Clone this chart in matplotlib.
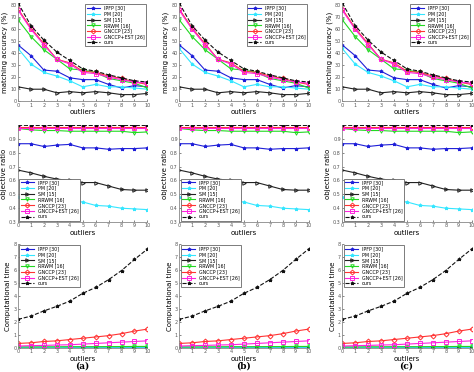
import numpy as np
import matplotlib
matplotlib.use("Agg")
import matplotlib.pyplot as plt

outliers = list(range(11))
methods = ["IPFP [30]", "PM [20]", "SM [15]", "RRWM [16]", "GNCCP [23]", "GNCCP+EST [26]", "ours"]

acc = {
    "IPFP [30]": [47, 38, 26, 25, 19.5, 18, 18, 14, 11, 13, 12],
    "PM [20]": [44, 31, 24, 21, 17, 12, 14, 12, 12, 11, 10],
    "SM [15]": [12, 10, 10, 7, 8, 7, 8, 7, 5.5, 5.5, 6.5],
    "RRWM [16]": [68, 54, 43, 35, 27, 26, 24, 19, 17, 15, 11],
    "GNCCP [23]": [77, 61, 48, 35, 32, 25, 24, 21, 19, 16, 14],
    "GNCCP+EST [26]": [76, 60, 47, 35, 31, 24, 23, 20, 18, 16, 15],
    "ours": [82, 63, 51, 41, 34, 27, 25, 22, 19.5, 17, 16],
}
ratio = {
    "IPFP [30]": [0.865, 0.865, 0.845, 0.855, 0.86, 0.835, 0.835, 0.825, 0.83, 0.83, 0.835],
    "PM [20]": [0.48, 0.47, 0.46, 0.455, 0.45, 0.445, 0.42, 0.415, 0.40, 0.395, 0.39],
    "SM [15]": [0.675, 0.655, 0.63, 0.61, 0.60, 0.585, 0.585, 0.56, 0.535, 0.53, 0.53],
    "RRWM [16]": [0.975, 0.965, 0.96, 0.96, 0.955, 0.955, 0.955, 0.955, 0.955, 0.945, 0.95],
    "GNCCP [23]": [0.985, 0.985, 0.985, 0.985, 0.985, 0.985, 0.985, 0.985, 0.985, 0.985, 0.985],
    "GNCCP+EST [26]": [0.98, 0.98, 0.98, 0.98, 0.98, 0.98, 0.98, 0.98, 0.98, 0.98, 0.98],
    "ours": [0.998, 0.997, 0.997, 0.997, 0.997, 0.997, 0.997, 0.997, 0.997, 0.997, 0.997],
}
ctime = {
    "IPFP [30]": [0.05, 0.05, 0.05, 0.05, 0.06, 0.06, 0.06, 0.06, 0.07, 0.07, 0.07],
    "PM [20]": [0.04, 0.04, 0.04, 0.04, 0.05, 0.05, 0.05, 0.05, 0.05, 0.05, 0.05],
    "SM [15]": [0.02, 0.02, 0.02, 0.02, 0.02, 0.02, 0.02, 0.02, 0.02, 0.02, 0.02],
    "RRWM [16]": [0.08, 0.08, 0.09, 0.09, 0.1, 0.1, 0.1, 0.11, 0.11, 0.12, 0.12],
    "GNCCP [23]": [0.35, 0.4, 0.5, 0.55, 0.65, 0.75, 0.85, 0.95, 1.1, 1.3, 1.45],
    "GNCCP+EST [26]": [0.15, 0.18, 0.2, 0.23, 0.25, 0.3, 0.35, 0.4, 0.45, 0.5, 0.55],
    "ours": [2.2, 2.45, 2.85, 3.2, 3.6, 4.2, 4.65, 5.25, 5.95, 6.8, 7.6],
}

styles = {
    "IPFP [30]": dict(color="#1f1fd8", marker="*", ls="-", mfc="#1f1fd8"),
    "PM [20]": dict(color="#33e6ff", marker="*", ls="-", mfc="none"),
    "SM [15]": dict(color="#222222", marker=">", ls="-", mfc="none"),
    "RRWM [16]": dict(color="#22d822", marker="v", ls="-", mfc="none"),
    "GNCCP [23]": dict(color="#ff3333", marker="D", ls="-", mfc="none"),
    "GNCCP+EST [26]": dict(color="#ff22dd", marker="s", ls="-", mfc="none"),
    "ours": dict(color="#111111", marker="*", ls="--", mfc="#111111"),
}

rows = [
    (acc, "matching accuracy (%)", (0, 82), list(range(0, 81, 10)), "upper right", 0.728, 0.264),
    (ratio, "objective ratio", (0.3, 1.0), [0.3, 0.4, 0.5, 0.6, 0.7, 0.8, 0.9], "lower left", 0.403, 0.261),
    (ctime, "Computational time", (0, 8), list(range(0, 9)), "upper left", 0.0645, 0.28),
]
cols = [(0.038, "(a)"), (0.378, "(b)"), (0.722, "(c)")]

fig = plt.figure(figsize=(4.74, 3.72), dpi=100)

for left, tag in cols:
    for data, ylab, ylim, yt, loc, bottom, h in rows:
        ax = fig.add_axes([left, bottom, 0.273, h])
        for m in methods:
            st = styles[m]
            ax.plot(outliers, data[m], linestyle=st["ls"], color=st["color"], marker=st["marker"],
                    mfc=st["mfc"], mec=st["color"], ms=2.5, lw=0.8, mew=0.7, label=m)
        ax.set_xlim(0, 10)
        ax.set_ylim(*ylim)
        ax.set_xticks(outliers)
        ax.set_yticks(yt)
        if ylab == "objective ratio":
            ax.set_yticklabels([f"{v:g}" for v in yt])
        ax.tick_params(direction="in", length=1.5, labelsize=3.5, pad=1, colors="#555555", width=0.5)
        for s in ["top", "right"]:
            ax.spines[s].set_visible(False)
        for s in ["left", "bottom"]:
            ax.spines[s].set_color("#888888")
            ax.spines[s].set_linewidth(0.6)
        ax.set_xlabel("outliers", fontsize=5, labelpad=1)
        ax.set_ylabel(ylab, fontsize=5, labelpad=1.5)
        leg = ax.legend(loc=loc, fontsize=3.4, handlelength=2.8, borderpad=0.3,
                        labelspacing=0.15, fancybox=False, framealpha=1, borderaxespad=0.3)
        leg.get_frame().set_edgecolor("#666666")
        leg.get_frame().set_linewidth(0.6)
    fig.text(left + 0.135, 0.003, tag, ha="center", va="bottom", fontsize=6.5,
             family="DejaVu Serif", weight="bold")

fig.savefig("out.png", dpi=100)
